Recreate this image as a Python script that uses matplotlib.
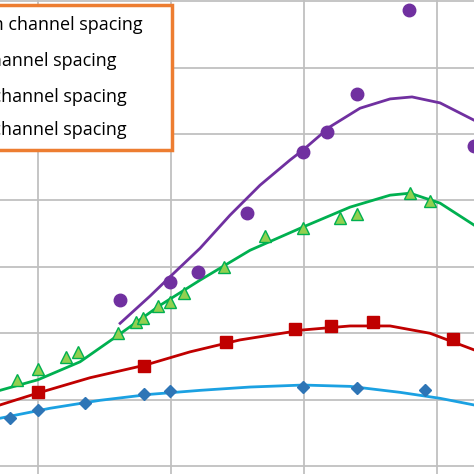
import matplotlib
matplotlib.use("Agg")
import matplotlib.pyplot as plt
from matplotlib.patches import Rectangle

# data units: vertical grid lines at x = 1..4, horizontal at y = 0..7
purple_x = [1.62, 1.99, 2.20, 2.57, 2.99, 3.17, 3.40, 3.79, 4.28]
purple_y = [2.50, 2.77, 2.92, 3.81, 4.73, 5.03, 5.60, 6.87, 4.82]
purple_fit_x = [1.617, 1.842, 1.992, 2.218, 2.444, 2.669, 2.895, 2.992, 3.195, 3.421, 3.647, 3.812, 4.023, 4.278]
purple_fit_y = [2.15, 2.56, 2.85, 3.28, 3.78, 4.23, 4.61, 4.76, 5.11, 5.39, 5.53, 5.56, 5.47, 5.21]

green_x = [0.84, 1.0, 1.21, 1.30, 1.60, 1.74, 1.79, 1.90, 1.99, 2.10, 2.40, 2.71, 2.99, 3.27, 3.40, 3.80, 3.95]
green_y = [1.29, 1.46, 1.64, 1.72, 2.00, 2.17, 2.23, 2.41, 2.47, 2.61, 3.00, 3.46, 3.58, 3.73, 3.80, 4.11, 3.99]
green_fit_x = [0.714, 1.0, 1.316, 1.602, 1.917, 2.218, 2.594, 2.992, 3.346, 3.647, 3.797, 4.023, 4.278]
green_fit_y = [1.14, 1.30, 1.57, 1.97, 2.42, 2.80, 3.25, 3.60, 3.90, 4.08, 4.11, 3.96, 3.63]

red_x = [1.0, 1.80, 2.41, 2.93, 3.20, 3.52, 4.12]
red_y = [1.11, 1.51, 1.87, 2.06, 2.11, 2.17, 1.92]
red_fit_x = [0.714, 1.0, 1.391, 1.805, 2.143, 2.519, 2.992, 3.346, 3.647, 3.947, 4.278]
red_fit_y = [0.92, 1.10, 1.33, 1.52, 1.72, 1.90, 2.05, 2.11, 2.11, 2.00, 1.75]

blue_x = [0.79, 1.0, 1.35, 1.80, 1.99, 2.99, 3.40, 3.91]
blue_y = [0.72, 0.84, 0.95, 1.08, 1.13, 1.19, 1.17, 1.14]
blue_fit_x = [0.714, 1.09, 1.466, 1.842, 2.218, 2.594, 2.992, 3.346, 3.722, 4.023, 4.278]
blue_fit_y = [0.72, 0.87, 0.99, 1.08, 1.14, 1.19, 1.22, 1.20, 1.11, 1.02, 0.92]

labels = ["1.6 nm channel spacing", "0.8 nm channel spacing",
          "0.4 nm channel spacing", "0.2 nm channel spacing"]

fig = plt.figure(figsize=(4.74, 4.74), dpi=100)
ax = fig.add_axes([0, 0, 1, 1])
ax.set_xlim(0.714, 4.278)
ax.set_ylim(-0.12, 7.02)
ax.set_xticks([1, 2, 3, 4])
ax.set_yticks(range(8))
ax.grid(True, color="#c0c0c0", lw=1.3)
ax.tick_params(length=0, labelbottom=False, labelleft=False)
for s in ax.spines.values():
    s.set_visible(False)

ax.plot(purple_fit_x, purple_fit_y, color="#7030a0", lw=2)
ax.plot(green_fit_x, green_fit_y, color="#00b050", lw=2)
ax.plot(red_fit_x, red_fit_y, color="#c00000", lw=2)
ax.plot(blue_fit_x, blue_fit_y, color="#1ba1e2", lw=2)

ax.plot(purple_x, purple_y, "o", color="#7030a0", ms=9, ls="none", clip_on=False)
ax.plot(green_x, green_y, "^", color="#92d050", mec="#00b050", ms=8, ls="none")
ax.plot(red_x, red_y, "s", color="#c00000", ms=8, ls="none")
ax.plot(blue_x, blue_y, "D", color="#2e75b6", ms=6, ls="none")

# legend box, mostly cut off at the left edge
ax.add_patch(Rectangle((-10, 324), 182, 145, transform=None, fill=True,
                       fc="white", ec="#ed7d31", lw=2.5, zorder=5))
ends = [143, 116, 127, 127]
ys = [449, 413, 377, 344]
for lab, xe, yp in zip(labels, ends, ys):
    ax.text(xe, yp, lab, transform=None, ha="right", va="center",
            fontsize=13, family="Open Sans", zorder=6)

fig.savefig("out.png", dpi=100)
